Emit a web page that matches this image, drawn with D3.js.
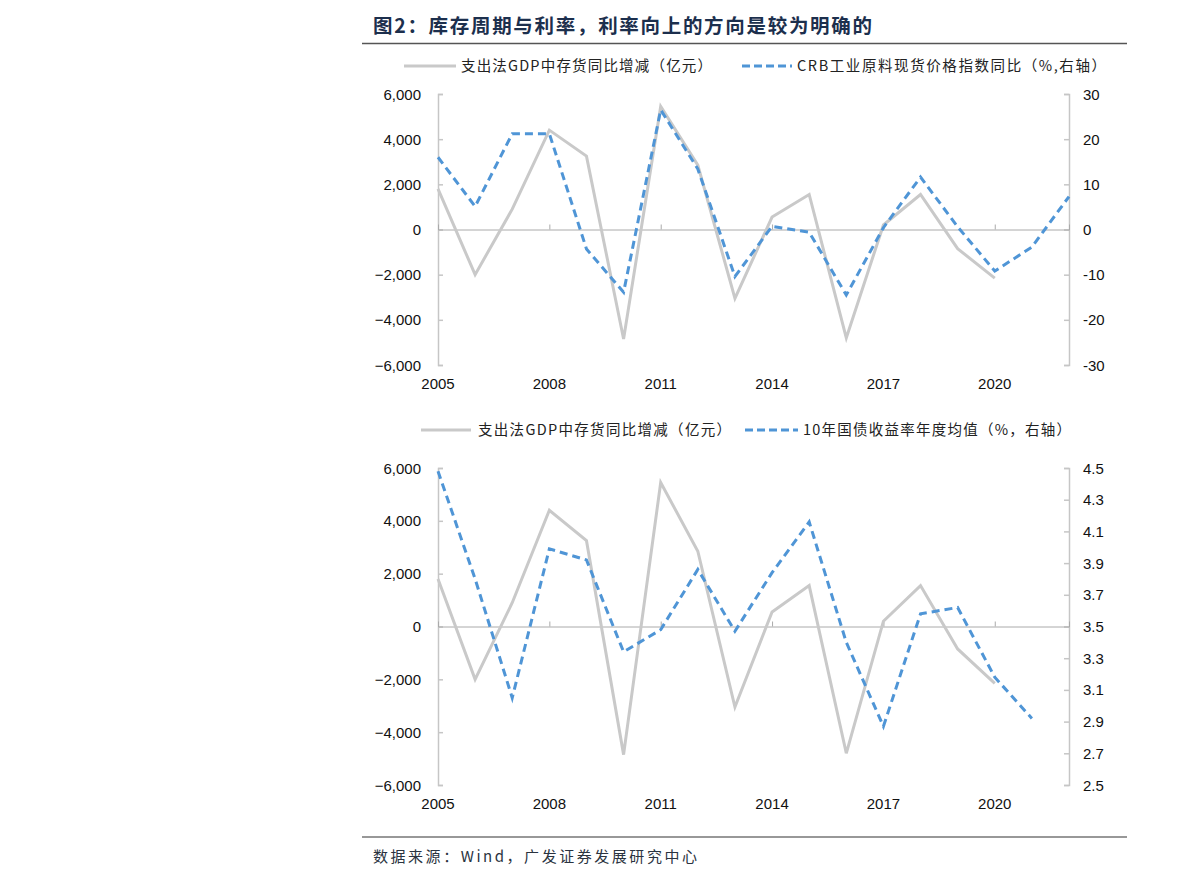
<!DOCTYPE html>
<html><head><meta charset="utf-8">
<script src="https://cdn.jsdelivr.net/npm/d3@7"></script>
<style>
body{margin:0;background:#fff;}
text{font-family:"Liberation Sans",Arial,sans-serif;}
.cjk{font-family:"Noto Sans CJK SC","Liberation Sans",sans-serif;}
</style></head>
<body><svg id="c" width="1191" height="884"></svg>
<script>
const years = [2005,2006,2007,2008,2009,2010,2011,2012,2013,2014,2015,2016,2017,2018,2019,2020,2021,2022];
const inventory = [1800,-2000,900,4400,3250,-4850,5450,2850,-3050,550,1550,-4800,200,1550,-850,-2150];
const crb = [16.0,5.1,21.2,21.2,-4.3,-13.9,26.5,13.4,-10.4,0.7,-0.6,-14.5,0.4,11.6,0.6,-9.2,-3.9,7.3];
const bond = [4.48,3.80,3.05,3.99,3.92,3.34,3.48,3.86,3.47,3.84,4.16,3.40,2.87,3.58,3.62,3.18,2.92];
const leftTicks = [-6000,-4000,-2000,0,2000,4000,6000];
const crbTicks = [-30,-20,-10,0,10,20,30];
const bondTicks = [2.5,2.7,2.9,3.1,3.3,3.5,3.7,3.9,4.1,4.3,4.5];
const xTickYears = [2005,2008,2011,2014,2017,2020];
const titleText = "图2：库存周期与利率，利率向上的方向是较为明确的";
const legendInv = "支出法GDP中存货同比增减（亿元）";
const legendCrb = "CRB工业原料现货价格指数同比（%,右轴）";
const legendBond = "10年国债收益率年度均值（%，右轴）";
const sourceText = "数据来源：Wind，广发证券发展研究中心";

const svg = d3.select("#c");
const gray = "#c9c9c9", blue = "#4f95d6", axisCol = "#c6c6c6";

// title
svg.append("text").attr("class","cjk").attr("x",373).attr("y",33)
  .attr("font-size",19.5).attr("font-weight","bold").attr("fill","#1c2f4d")
  .attr("textLength",499).text(titleText);
svg.append("line").attr("x1",362).attr("x2",1127).attr("y1",43.5).attr("y2",43.5)
  .attr("stroke","#555").attr("stroke-width",1.5);
// footer
svg.append("line").attr("x1",362).attr("x2",1127).attr("y1",837).attr("y2",837)
  .attr("stroke","#333").attr("stroke-width",1.2);
svg.append("text").attr("class","cjk").attr("x",373).attr("y",862)
  .attr("font-size",15).attr("fill","#2a3340").attr("textLength",324).text(sourceText);

const x = d3.scaleLinear().domain([2005,2022]).range([438,1069]);

function panel(top, bottom, rDomain, rTicks, rFmt, rValues, rYears, legY, legend2, leg){
  const yL = d3.scaleLinear().domain([-6000,6000]).range([bottom,top]);
  const yR = d3.scaleLinear().domain(rDomain).range([bottom,top]);
  const g = svg.append("g");
  const la = g.append("g").attr("transform",`translate(438,0)`)
    .call(d3.axisRight(yL).tickValues(leftTicks).tickSize(5).tickFormat(""));
  la.select(".domain").attr("stroke",axisCol).attr("stroke-width",1.5);
  la.selectAll(".tick line").attr("stroke",axisCol).attr("stroke-width",1.5);
  const ra = g.append("g").attr("transform",`translate(1069,0)`)
    .call(d3.axisLeft(yR).tickValues(rTicks).tickSize(5).tickFormat(""));
  ra.select(".domain").attr("stroke",axisCol).attr("stroke-width",1.5);
  ra.selectAll(".tick line").attr("stroke",axisCol).attr("stroke-width",1.5);
  g.selectAll(".ll").data(leftTicks).join("text").attr("x",421).attr("y",d=>yL(d)+5.5)
    .attr("text-anchor","end").attr("font-size",15).attr("fill","#111").text(d=>d3.format(",")(d));
  g.selectAll(".rl").data(rTicks).join("text").attr("x",1083).attr("y",d=>yR(d)+5.5)
    .attr("text-anchor","start").attr("font-size",15).attr("fill","#111").text(rFmt);
  const zy = yL(0);
  const xa = g.append("g").attr("transform",`translate(0,${zy})`)
    .call(d3.axisTop(x).tickValues(xTickYears.slice(1)).tickSize(5).tickFormat(""));
  xa.select(".domain").attr("stroke","#aaa").attr("stroke-width",1);
  xa.selectAll(".tick line").attr("stroke","#aaa");
  g.selectAll(".xl").data(xTickYears).join("text").attr("x",d=>x(d)).attr("y",bottom+24)
    .attr("text-anchor","middle").attr("font-size",15).attr("fill","#111").text(d=>d);
  g.append("path").datum(inventory.map((v,i)=>[years[i],v]))
    .attr("d",d3.line().x(d=>x(d[0])).y(d=>yL(d[1])))
    .attr("fill","none").attr("stroke",gray).attr("stroke-width",3);
  g.append("path").datum(rValues.map((v,i)=>[rYears[i],v]))
    .attr("d",d3.line().x(d=>x(d[0])).y(d=>yR(d[1])))
    .attr("fill","none").attr("stroke",blue).attr("stroke-width",3).attr("stroke-dasharray","8,5");
  g.append("line").attr("x1",leg[0]).attr("x2",leg[1]).attr("y1",legY).attr("y2",legY)
    .attr("stroke",gray).attr("stroke-width",3);
  g.append("text").attr("class","cjk").attr("x",leg[2]).attr("y",legY+5).attr("font-size",14.5)
    .attr("fill","#222").attr("textLength",leg[3]-leg[2]).text(legendInv);
  g.append("line").attr("x1",leg[4]).attr("x2",leg[5]).attr("y1",legY).attr("y2",legY)
    .attr("stroke",blue).attr("stroke-width",3).attr("stroke-dasharray","8,4");
  g.append("text").attr("class","cjk").attr("x",leg[6]).attr("y",legY+5).attr("font-size",14.5)
    .attr("fill","#222").attr("textLength",leg[7]-leg[6]).text(legend2);
}

panel(94, 365, [-30,30], crbTicks, d=>d, crb, years, 66, legendCrb,
  [404,456,461,712,742,792,797,1106]);
panel(468, 785, [2.5,4.5], bondTicks, d=>d3.format(".1f")(d), bond, years.slice(0,bond.length), 430, legendBond,
  [421,471,478,731,745,798,803,1071]);
</script></body></html>
